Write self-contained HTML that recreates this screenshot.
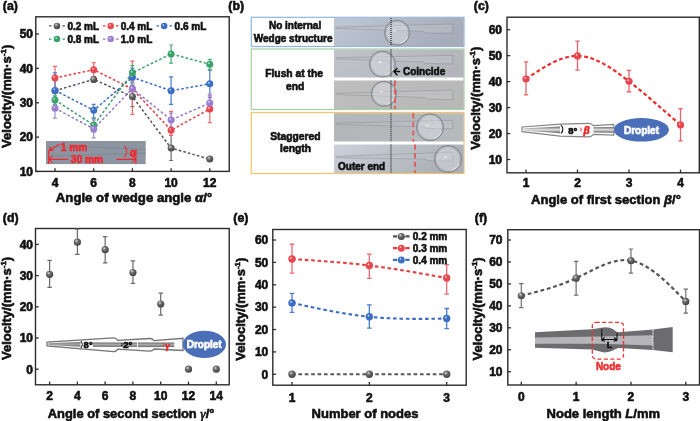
<!DOCTYPE html>
<html><head><meta charset="utf-8"><style>html,body{margin:0;padding:0;background:#fff;width:700px;height:421px;overflow:hidden}svg{display:block;will-change:transform;opacity:0.999}text{stroke-width:0.6px}</style></head>
<body><svg width="700" height="421" viewBox="0 0 700 421" font-family='"Liberation Sans", sans-serif'><defs><radialGradient id="g_gray" cx="0.38" cy="0.35" r="0.7"><stop offset="0" stop-color="#ffffff" stop-opacity="0.85"/><stop offset="0.25" stop-color="#5a5a5a" stop-opacity="1"/><stop offset="1" stop-color="#5a5a5a"/></radialGradient><radialGradient id="g_red" cx="0.38" cy="0.35" r="0.7"><stop offset="0" stop-color="#ffffff" stop-opacity="0.85"/><stop offset="0.25" stop-color="#e8474f" stop-opacity="1"/><stop offset="1" stop-color="#e8474f"/></radialGradient><radialGradient id="g_blue" cx="0.38" cy="0.35" r="0.7"><stop offset="0" stop-color="#ffffff" stop-opacity="0.85"/><stop offset="0.25" stop-color="#3b6fc4" stop-opacity="1"/><stop offset="1" stop-color="#3b6fc4"/></radialGradient><radialGradient id="g_green" cx="0.38" cy="0.35" r="0.7"><stop offset="0" stop-color="#ffffff" stop-opacity="0.85"/><stop offset="0.25" stop-color="#3aa36c" stop-opacity="1"/><stop offset="1" stop-color="#3aa36c"/></radialGradient><radialGradient id="g_purple" cx="0.38" cy="0.35" r="0.7"><stop offset="0" stop-color="#ffffff" stop-opacity="0.85"/><stop offset="0.25" stop-color="#9a7fd0" stop-opacity="1"/><stop offset="1" stop-color="#9a7fd0"/></radialGradient><radialGradient id="dropg" cx="0.5" cy="0.5" r="0.5"><stop offset="0" stop-color="#e2e6ea" stop-opacity="0.35"/><stop offset="0.8" stop-color="#dfe3e8" stop-opacity="0.45"/><stop offset="1" stop-color="#8c9198" stop-opacity="0.6"/></radialGradient><linearGradient id="tubeg" x1="0" y1="0" x2="0" y2="1"><stop offset="0" stop-color="#6a6a6a"/><stop offset="0.3" stop-color="#b5b5b5"/><stop offset="0.5" stop-color="#e8e8e8"/><stop offset="0.7" stop-color="#a5a5a5"/><stop offset="1" stop-color="#666666"/></linearGradient><linearGradient id="tubeg2" x1="0" y1="0" x2="0" y2="1"><stop offset="0" stop-color="#6e6e6e"/><stop offset="0.45" stop-color="#a8a8a8"/><stop offset="1" stop-color="#707070"/></linearGradient><radialGradient id="g_dgray" cx="0.38" cy="0.33" r="0.75"><stop offset="0" stop-color="#d8d8d8"/><stop offset="0.35" stop-color="#6a6a6a"/><stop offset="1" stop-color="#3c3c3c"/></radialGradient></defs><text x="2.80" y="9.90" font-size="12.3" text-anchor="start" fill="#111" stroke="#111" font-weight="bold" >(a)</text><text x="228.30" y="9.90" font-size="12.3" text-anchor="start" fill="#111" stroke="#111" font-weight="bold" >(b)</text><text x="473.80" y="9.90" font-size="12.3" text-anchor="start" fill="#111" stroke="#111" font-weight="bold" >(c)</text><text x="2.80" y="221.60" font-size="12.3" text-anchor="start" fill="#111" stroke="#111" font-weight="bold" >(d)</text><text x="233.30" y="221.60" font-size="12.3" text-anchor="start" fill="#111" stroke="#111" font-weight="bold" >(e)</text><text x="474.80" y="221.60" font-size="12.3" text-anchor="start" fill="#111" stroke="#111" font-weight="bold" >(f)</text><rect x="46" y="141" width="99.7" height="23.1" fill="#8d95a2"/><path d="M46 147 Q95 146 145.7 149.5" stroke="#7a818d" stroke-width="1" fill="none" opacity="0.7"/><path d="M46 156 Q95 155 145.7 153" stroke="#7a818d" stroke-width="1" fill="none" opacity="0.7"/><g stroke="#f0282d" stroke-width="1.2" fill="none"><path d="M59.6 144.1 L49 150.7 M49 150.7 l4.5 -0.5 M49 150.7 l1.8 -4"/><path d="M48.6 151V164 M48.6 159.4H68.3 M48.6 159.4 l4 -3.5 M48.6 159.4 l4 3.5"/><path d="M116.2 159.4H135.9 M135.9 151V164 M135.9 159.4 l-4 -3.5 M135.9 159.4 l-4 3.5"/><path d="M124.5 146 Q129 151.5 124.5 157"/></g><text x="60.80" y="150.60" font-size="10.2" text-anchor="start" fill="#f0282d" stroke="#f0282d" font-weight="bold" >1 mm</text><text x="70.80" y="163.20" font-size="10.2" text-anchor="start" fill="#f0282d" stroke="#f0282d" font-weight="bold" >30 mm</text><text x="129.8" y="156.2" font-size="10.5" fill="#f0282d" stroke="#f0282d" font-weight="bold" font-style="italic">α</text><path d="M55.00 90.72 L93.70 79.38 L132.40 96.56 L171.10 148.12 L209.80 159.12" stroke="#555555" stroke-width="1.5" fill="none" stroke-dasharray="2.6 2.1"/><path d="M55.00 78.00 L93.70 69.75 L132.40 89.00 L171.10 130.25 L209.80 108.94" stroke="#e53a3f" stroke-width="1.5" fill="none" stroke-dasharray="2.6 2.1"/><path d="M55.00 90.38 L93.70 110.31 L132.40 77.31 L171.10 90.72 L209.80 83.84" stroke="#3a6cc2" stroke-width="1.5" fill="none" stroke-dasharray="2.6 2.1"/><path d="M55.00 100.00 L93.70 125.09 L132.40 72.84 L171.10 53.94 L209.80 64.25" stroke="#3a9f6a" stroke-width="1.5" fill="none" stroke-dasharray="2.6 2.1"/><path d="M55.00 108.25 L93.70 128.88 L132.40 88.66 L171.10 119.94 L209.80 103.09" stroke="#9478cc" stroke-width="1.5" fill="none" stroke-dasharray="2.6 2.1"/><path d="M93.70 76.62V82.12M91.70 76.62H95.70M91.70 82.12H95.70" stroke="#6e6e6e" stroke-width="1.2" fill="none"/><path d="M132.40 82.12V106.53M130.40 82.12H134.40M130.40 106.53H134.40" stroke="#6e6e6e" stroke-width="1.2" fill="none"/><path d="M171.10 135.41V160.50M169.10 135.41H173.10M169.10 160.50H173.10" stroke="#6e6e6e" stroke-width="1.2" fill="none"/><path d="M209.80 157.06V161.19M207.80 157.06H211.80M207.80 161.19H211.80" stroke="#6e6e6e" stroke-width="1.2" fill="none"/><path d="M55.00 66.31V90.72M53.00 66.31H57.00M53.00 90.72H57.00" stroke="#ec6a70" stroke-width="1.2" fill="none"/><path d="M93.70 62.53V76.97M91.70 62.53H95.70M91.70 76.97H95.70" stroke="#ec6a70" stroke-width="1.2" fill="none"/><path d="M132.40 61.16V114.44M130.40 61.16H134.40M130.40 114.44H134.40" stroke="#ec6a70" stroke-width="1.2" fill="none"/><path d="M171.10 111.34V135.41M169.10 111.34H173.10M169.10 135.41H173.10" stroke="#ec6a70" stroke-width="1.2" fill="none"/><path d="M209.80 95.88V122.69M207.80 95.88H211.80M207.80 122.69H211.80" stroke="#ec6a70" stroke-width="1.2" fill="none"/><path d="M55.00 72.84V106.88M53.00 72.84H57.00M53.00 106.88H57.00" stroke="#4a7cd0" stroke-width="1.2" fill="none"/><path d="M93.70 104.47V118.22M91.70 104.47H95.70M91.70 118.22H95.70" stroke="#4a7cd0" stroke-width="1.2" fill="none"/><path d="M132.40 68.38V85.56M130.40 68.38H134.40M130.40 85.56H134.40" stroke="#4a7cd0" stroke-width="1.2" fill="none"/><path d="M171.10 76.97V104.47M169.10 76.97H173.10M169.10 104.47H173.10" stroke="#4a7cd0" stroke-width="1.2" fill="none"/><path d="M209.80 70.09V97.59M207.80 70.09H211.80M207.80 97.59H211.80" stroke="#4a7cd0" stroke-width="1.2" fill="none"/><path d="M55.00 95.88V104.47M53.00 95.88H57.00M53.00 104.47H57.00" stroke="#4aad7a" stroke-width="1.2" fill="none"/><path d="M93.70 118.22V131.97M91.70 118.22H95.70M91.70 131.97H95.70" stroke="#4aad7a" stroke-width="1.2" fill="none"/><path d="M132.40 65.63V83.84M130.40 65.63H134.40M130.40 83.84H134.40" stroke="#4aad7a" stroke-width="1.2" fill="none"/><path d="M171.10 45.00V63.22M169.10 45.00H173.10M169.10 63.22H173.10" stroke="#4aad7a" stroke-width="1.2" fill="none"/><path d="M209.80 59.44V69.41M207.80 59.44H211.80M207.80 69.41H211.80" stroke="#4aad7a" stroke-width="1.2" fill="none"/><path d="M55.00 97.59V118.22M53.00 97.59H57.00M53.00 118.22H57.00" stroke="#a58ad6" stroke-width="1.2" fill="none"/><path d="M93.70 119.94V137.81M91.70 119.94H95.70M91.70 137.81H95.70" stroke="#a58ad6" stroke-width="1.2" fill="none"/><path d="M132.40 80.41V97.59M130.40 80.41H134.40M130.40 97.59H134.40" stroke="#a58ad6" stroke-width="1.2" fill="none"/><path d="M171.10 113.06V126.81M169.10 113.06H173.10M169.10 126.81H173.10" stroke="#a58ad6" stroke-width="1.2" fill="none"/><path d="M209.80 94.16V111.34M207.80 94.16H211.80M207.80 111.34H211.80" stroke="#a58ad6" stroke-width="1.2" fill="none"/><circle cx="55.00" cy="90.72" r="3.5" fill="url(#g_dgray)"/><circle cx="93.70" cy="79.38" r="3.5" fill="url(#g_dgray)"/><circle cx="132.40" cy="96.56" r="3.5" fill="url(#g_dgray)"/><circle cx="171.10" cy="148.12" r="3.5" fill="url(#g_dgray)"/><circle cx="209.80" cy="159.12" r="3.5" fill="url(#g_dgray)"/><circle cx="55.00" cy="78.00" r="3.5" fill="url(#g_red)"/><circle cx="93.70" cy="69.75" r="3.5" fill="url(#g_red)"/><circle cx="132.40" cy="89.00" r="3.5" fill="url(#g_red)"/><circle cx="171.10" cy="130.25" r="3.5" fill="url(#g_red)"/><circle cx="209.80" cy="108.94" r="3.5" fill="url(#g_red)"/><circle cx="55.00" cy="90.38" r="3.5" fill="url(#g_blue)"/><circle cx="93.70" cy="110.31" r="3.5" fill="url(#g_blue)"/><circle cx="132.40" cy="77.31" r="3.5" fill="url(#g_blue)"/><circle cx="171.10" cy="90.72" r="3.5" fill="url(#g_blue)"/><circle cx="209.80" cy="83.84" r="3.5" fill="url(#g_blue)"/><circle cx="55.00" cy="100.00" r="3.5" fill="url(#g_green)"/><circle cx="93.70" cy="125.09" r="3.5" fill="url(#g_green)"/><circle cx="132.40" cy="72.84" r="3.5" fill="url(#g_green)"/><circle cx="171.10" cy="53.94" r="3.5" fill="url(#g_green)"/><circle cx="209.80" cy="64.25" r="3.5" fill="url(#g_green)"/><circle cx="55.00" cy="108.25" r="3.5" fill="url(#g_purple)"/><circle cx="93.70" cy="128.88" r="3.5" fill="url(#g_purple)"/><circle cx="132.40" cy="88.66" r="3.5" fill="url(#g_purple)"/><circle cx="171.10" cy="119.94" r="3.5" fill="url(#g_purple)"/><circle cx="209.80" cy="103.09" r="3.5" fill="url(#g_purple)"/><path d="M48.90 25.90h2.6M62.40 25.90H65.00" stroke="#555555" stroke-width="1.4"/><circle cx="56.95" cy="25.90" r="3.25" fill="url(#g_dgray)"/><text x="67.40" y="29.50" font-size="10" text-anchor="start" fill="#111" stroke="#111" font-weight="bold" >0.2 mL</text><path d="M102.90 25.90h2.6M115.90 25.90H118.50" stroke="#e53a3f" stroke-width="1.4"/><circle cx="110.70" cy="25.90" r="3.25" fill="url(#g_red)"/><text x="120.70" y="29.50" font-size="10" text-anchor="start" fill="#111" stroke="#111" font-weight="bold" >0.4 mL</text><path d="M156.40 25.90h2.6M169.40 25.90H172.00" stroke="#3a6cc2" stroke-width="1.4"/><circle cx="164.20" cy="25.90" r="3.25" fill="url(#g_blue)"/><text x="174.60" y="29.50" font-size="10" text-anchor="start" fill="#111" stroke="#111" font-weight="bold" >0.6 mL</text><path d="M48.90 39.10h2.6M62.40 39.10H65.00" stroke="#3a9f6a" stroke-width="1.4"/><circle cx="56.95" cy="39.10" r="3.25" fill="url(#g_green)"/><text x="67.40" y="42.70" font-size="10" text-anchor="start" fill="#111" stroke="#111" font-weight="bold" >0.8 mL</text><path d="M102.90 39.10h2.6M115.90 39.10H118.50" stroke="#9478cc" stroke-width="1.4"/><circle cx="110.70" cy="39.10" r="3.25" fill="url(#g_purple)"/><text x="120.70" y="42.70" font-size="10" text-anchor="start" fill="#111" stroke="#111" font-weight="bold" >1.0 mL</text><rect x="35.80" y="16.80" width="193.40" height="154.60" fill="none" stroke="#2b2b2b" stroke-width="1.4"/><path d="M35.80 171.50H39.00" stroke="#2b2b2b" stroke-width="1.3"/><text x="33.00" y="175.80" font-size="12" text-anchor="end" fill="#111" stroke="#111" font-weight="bold" >10</text><path d="M35.80 137.12H39.00" stroke="#2b2b2b" stroke-width="1.3"/><text x="33.00" y="141.43" font-size="12" text-anchor="end" fill="#111" stroke="#111" font-weight="bold" >20</text><path d="M35.80 102.75H39.00" stroke="#2b2b2b" stroke-width="1.3"/><text x="33.00" y="107.05" font-size="12" text-anchor="end" fill="#111" stroke="#111" font-weight="bold" >30</text><path d="M35.80 68.38H39.00" stroke="#2b2b2b" stroke-width="1.3"/><text x="33.00" y="72.67" font-size="12" text-anchor="end" fill="#111" stroke="#111" font-weight="bold" >40</text><path d="M35.80 34.00H39.00" stroke="#2b2b2b" stroke-width="1.3"/><text x="33.00" y="38.30" font-size="12" text-anchor="end" fill="#111" stroke="#111" font-weight="bold" >50</text><path d="M55.00 171.40V168.20" stroke="#2b2b2b" stroke-width="1.3"/><text x="55.00" y="186.50" font-size="12" text-anchor="middle" fill="#111" stroke="#111" font-weight="bold" >4</text><path d="M93.70 171.40V168.20" stroke="#2b2b2b" stroke-width="1.3"/><text x="93.70" y="186.50" font-size="12" text-anchor="middle" fill="#111" stroke="#111" font-weight="bold" >6</text><path d="M132.40 171.40V168.20" stroke="#2b2b2b" stroke-width="1.3"/><text x="132.40" y="186.50" font-size="12" text-anchor="middle" fill="#111" stroke="#111" font-weight="bold" >8</text><path d="M171.10 171.40V168.20" stroke="#2b2b2b" stroke-width="1.3"/><text x="171.10" y="186.50" font-size="12" text-anchor="middle" fill="#111" stroke="#111" font-weight="bold" >10</text><path d="M209.80 171.40V168.20" stroke="#2b2b2b" stroke-width="1.3"/><text x="209.80" y="186.50" font-size="12" text-anchor="middle" fill="#111" stroke="#111" font-weight="bold" >12</text><text transform="translate(10.80 96.30) rotate(-90)" x="0" y="0" font-size="13" text-anchor="middle" fill="#111" font-weight="bold" stroke="#111">Velocity/(mm·s<tspan font-size="8" dy="-5">-1</tspan><tspan dy="5">)</tspan></text><text x="134" y="202.4" font-size="13.2" text-anchor="middle" fill="#111" font-weight="bold" stroke="#111">Angle of wedge angle <tspan font-style="italic">α</tspan>/°</text><rect x="507.00" y="17.20" width="192.30" height="155.60" fill="none" stroke="#2b2b2b" stroke-width="1.4"/><path d="M507.00 159.50H510.20" stroke="#2b2b2b" stroke-width="1.3"/><text x="502.00" y="163.80" font-size="12" text-anchor="end" fill="#111" stroke="#111" font-weight="bold" >10</text><path d="M507.00 133.54H510.20" stroke="#2b2b2b" stroke-width="1.3"/><text x="502.00" y="137.84" font-size="12" text-anchor="end" fill="#111" stroke="#111" font-weight="bold" >20</text><path d="M507.00 107.58H510.20" stroke="#2b2b2b" stroke-width="1.3"/><text x="502.00" y="111.88" font-size="12" text-anchor="end" fill="#111" stroke="#111" font-weight="bold" >30</text><path d="M507.00 81.62H510.20" stroke="#2b2b2b" stroke-width="1.3"/><text x="502.00" y="85.92" font-size="12" text-anchor="end" fill="#111" stroke="#111" font-weight="bold" >40</text><path d="M507.00 55.66H510.20" stroke="#2b2b2b" stroke-width="1.3"/><text x="502.00" y="59.96" font-size="12" text-anchor="end" fill="#111" stroke="#111" font-weight="bold" >50</text><path d="M507.00 29.70H510.20" stroke="#2b2b2b" stroke-width="1.3"/><text x="502.00" y="34.00" font-size="12" text-anchor="end" fill="#111" stroke="#111" font-weight="bold" >60</text><path d="M526.00 172.80V169.60" stroke="#2b2b2b" stroke-width="1.3"/><text x="526.00" y="186.50" font-size="12" text-anchor="middle" fill="#111" stroke="#111" font-weight="bold" >1</text><path d="M577.50 172.80V169.60" stroke="#2b2b2b" stroke-width="1.3"/><text x="577.50" y="186.50" font-size="12" text-anchor="middle" fill="#111" stroke="#111" font-weight="bold" >2</text><path d="M629.00 172.80V169.60" stroke="#2b2b2b" stroke-width="1.3"/><text x="629.00" y="186.50" font-size="12" text-anchor="middle" fill="#111" stroke="#111" font-weight="bold" >3</text><path d="M680.50 172.80V169.60" stroke="#2b2b2b" stroke-width="1.3"/><text x="680.50" y="186.50" font-size="12" text-anchor="middle" fill="#111" stroke="#111" font-weight="bold" >4</text><text transform="translate(480.00 98.20) rotate(-90)" x="0" y="0" font-size="13" text-anchor="middle" fill="#111" font-weight="bold" stroke="#111">Velocity/(mm·s<tspan font-size="8" dy="-5">-1</tspan><tspan dy="5">)</tspan></text><text x="606" y="203.9" font-size="13" text-anchor="middle" fill="#111" font-weight="bold" stroke="#111">Angle of first section <tspan font-style="italic">β</tspan>/°</text><path d="M526.00 79.02 L528.15 77.57 L530.29 76.13 L532.44 74.69 L534.58 73.27 L536.73 71.87 L538.88 70.50 L541.02 69.15 L543.17 67.85 L545.31 66.58 L547.46 65.36 L549.60 64.19 L551.75 63.07 L553.90 62.02 L556.04 61.03 L558.19 60.11 L560.33 59.28 L562.48 58.52 L564.62 57.85 L566.77 57.27 L568.92 56.78 L571.06 56.40 L573.21 56.13 L575.35 55.96 L577.50 55.92 L579.65 56.00 L581.79 56.19 L583.94 56.50 L586.08 56.91 L588.23 57.43 L590.38 58.05 L592.52 58.77 L594.67 59.58 L596.81 60.47 L598.96 61.45 L601.10 62.51 L603.25 63.64 L605.40 64.84 L607.54 66.10 L609.69 67.43 L611.83 68.81 L613.98 70.24 L616.12 71.72 L618.27 73.25 L620.42 74.81 L622.56 76.41 L624.71 78.03 L626.85 79.69 L629.00 81.36 L631.15 83.05 L633.29 84.76 L635.44 86.48 L637.58 88.22 L639.73 89.97 L641.88 91.74 L644.02 93.51 L646.17 95.30 L648.31 97.10 L650.46 98.91 L652.60 100.73 L654.75 102.56 L656.90 104.40 L659.04 106.25 L661.19 108.10 L663.33 109.96 L665.48 111.82 L667.62 113.69 L669.77 115.57 L671.92 117.44 L674.06 119.32 L676.21 121.21 L678.35 123.09 L680.50 124.97" stroke="#ee2a2a" stroke-width="2.2" fill="none" stroke-dasharray="3.8 2.6"/><path d="M526.00 61.89V94.86M523.80 61.89H528.20M523.80 94.86H528.20" stroke="#e86468" stroke-width="1.3" fill="none"/><path d="M577.50 41.12V70.20M575.30 41.12H579.70M575.30 70.20H579.70" stroke="#e86468" stroke-width="1.3" fill="none"/><path d="M629.00 70.46V91.74M626.80 70.46H631.20M626.80 91.74H631.20" stroke="#e86468" stroke-width="1.3" fill="none"/><path d="M680.50 108.62V140.81M678.30 108.62H682.70M678.30 140.81H682.70" stroke="#e86468" stroke-width="1.3" fill="none"/><circle cx="526.00" cy="79.02" r="3.6" fill="url(#g_red)"/><circle cx="577.50" cy="55.92" r="3.6" fill="url(#g_red)"/><circle cx="629.00" cy="81.36" r="3.6" fill="url(#g_red)"/><circle cx="680.50" cy="124.97" r="3.6" fill="url(#g_red)"/><rect x="35.50" y="228.50" width="193.70" height="156.30" fill="none" stroke="#2b2b2b" stroke-width="1.4"/><path d="M35.50 369.20H38.70" stroke="#2b2b2b" stroke-width="1.3"/><text x="33.00" y="373.50" font-size="12" text-anchor="end" fill="#111" stroke="#111" font-weight="bold" >0</text><path d="M35.50 338.00H38.70" stroke="#2b2b2b" stroke-width="1.3"/><text x="33.00" y="342.30" font-size="12" text-anchor="end" fill="#111" stroke="#111" font-weight="bold" >10</text><path d="M35.50 306.80H38.70" stroke="#2b2b2b" stroke-width="1.3"/><text x="33.00" y="311.10" font-size="12" text-anchor="end" fill="#111" stroke="#111" font-weight="bold" >20</text><path d="M35.50 275.60H38.70" stroke="#2b2b2b" stroke-width="1.3"/><text x="33.00" y="279.90" font-size="12" text-anchor="end" fill="#111" stroke="#111" font-weight="bold" >30</text><path d="M35.50 244.40H38.70" stroke="#2b2b2b" stroke-width="1.3"/><text x="33.00" y="248.70" font-size="12" text-anchor="end" fill="#111" stroke="#111" font-weight="bold" >40</text><path d="M49.60 384.80V381.60" stroke="#2b2b2b" stroke-width="1.3"/><text x="49.60" y="400.20" font-size="12" text-anchor="middle" fill="#111" stroke="#111" font-weight="bold" >2</text><path d="M77.38 384.80V381.60" stroke="#2b2b2b" stroke-width="1.3"/><text x="77.38" y="400.20" font-size="12" text-anchor="middle" fill="#111" stroke="#111" font-weight="bold" >4</text><path d="M105.16 384.80V381.60" stroke="#2b2b2b" stroke-width="1.3"/><text x="105.16" y="400.20" font-size="12" text-anchor="middle" fill="#111" stroke="#111" font-weight="bold" >6</text><path d="M132.94 384.80V381.60" stroke="#2b2b2b" stroke-width="1.3"/><text x="132.94" y="400.20" font-size="12" text-anchor="middle" fill="#111" stroke="#111" font-weight="bold" >8</text><path d="M160.72 384.80V381.60" stroke="#2b2b2b" stroke-width="1.3"/><text x="160.72" y="400.20" font-size="12" text-anchor="middle" fill="#111" stroke="#111" font-weight="bold" >10</text><path d="M188.50 384.80V381.60" stroke="#2b2b2b" stroke-width="1.3"/><text x="188.50" y="400.20" font-size="12" text-anchor="middle" fill="#111" stroke="#111" font-weight="bold" >12</text><path d="M216.28 384.80V381.60" stroke="#2b2b2b" stroke-width="1.3"/><text x="216.28" y="400.20" font-size="12" text-anchor="middle" fill="#111" stroke="#111" font-weight="bold" >14</text><text transform="translate(10.70 308.40) rotate(-90)" x="0" y="0" font-size="13" text-anchor="middle" fill="#111" font-weight="bold" stroke="#111">Velocity/(mm·s<tspan font-size="8" dy="-5">-1</tspan><tspan dy="5">)</tspan></text><text x="131.1" y="418.1" font-size="12.9" text-anchor="middle" fill="#111" font-weight="bold" stroke="#111">Angle of second section <tspan font-style="italic" font-weight="normal" font-family="Liberation Serif" font-size="13.5">γ</tspan>/°</text><path d="M49.60 260.31V287.46M47.40 260.31H51.80M47.40 287.46H51.80" stroke="#6a6a6a" stroke-width="1.2" fill="none"/><path d="M77.38 229.20V254.38M75.18 229.20H79.58M75.18 254.38H79.58" stroke="#6a6a6a" stroke-width="1.2" fill="none"/><path d="M105.16 236.60V262.81M102.96 236.60H107.36M102.96 262.81H107.36" stroke="#6a6a6a" stroke-width="1.2" fill="none"/><path d="M132.94 260.94V283.40M130.74 260.94H135.14M130.74 283.40H135.14" stroke="#6a6a6a" stroke-width="1.2" fill="none"/><path d="M160.72 293.07V315.22M158.52 293.07H162.92M158.52 315.22H162.92" stroke="#6a6a6a" stroke-width="1.2" fill="none"/><circle cx="49.60" cy="274.35" r="3.6" fill="url(#g_dgray)"/><circle cx="77.38" cy="242.22" r="3.6" fill="url(#g_dgray)"/><circle cx="105.16" cy="249.70" r="3.6" fill="url(#g_dgray)"/><circle cx="132.94" cy="272.48" r="3.6" fill="url(#g_dgray)"/><circle cx="160.72" cy="303.99" r="3.6" fill="url(#g_dgray)"/><circle cx="188.50" cy="369.20" r="3.6" fill="url(#g_dgray)"/><circle cx="216.28" cy="369.20" r="3.6" fill="url(#g_dgray)"/><g><path d="M47 342.1 L113.5 337.8 Q116 337.6 117.8 340.4 L149.5 338.5 Q152 338.3 154.2 340.6 L183 338.3 L183 350.5 L154.2 349 Q152 351.3 149.5 351.1 L117.8 349.2 Q116 351.9 113.5 351.6 L47 345.9 Z" fill="#fbfbfb" stroke="#737373" stroke-width="1.3"/><path d="M48.5 343.2 L80.5 342.1 L80.5 346.7 L48.5 344.9 Z" fill="url(#tubeg2)"/><rect x="93" y="342.5" width="44" height="4.4" fill="url(#tubeg2)"/><rect x="138" y="342.5" width="36.3" height="4.6" fill="url(#tubeg2)"/><path d="M81 341 Q84 344.5 81 348" stroke="#111" stroke-width="1" fill="none"/><path d="M121.2 343.1 Q123.2 344.6 121.2 346" stroke="#111" stroke-width="0.9" fill="none"/><path d="M162.8 343 Q164.6 344.6 162.8 346.2" stroke="#ee2222" stroke-width="0.9" fill="none"/></g><text x="83.60" y="348.00" font-size="9.5" text-anchor="start" fill="#111" stroke="#111" font-weight="bold" >8°</text><text x="123.30" y="348.00" font-size="9.5" text-anchor="start" fill="#111" stroke="#111" font-weight="bold" >2°</text><text x="165.3" y="348.8" font-size="11" fill="#ee2222" stroke="#ee2222" font-weight="normal" font-style="italic" font-family="Liberation Serif">γ</text><ellipse cx="204.4" cy="344.4" rx="21.6" ry="13.6" fill="#4a6fb8"/><text x="204.20" y="348.30" font-size="10" text-anchor="middle" fill="#ffffff" stroke="#ffffff" font-weight="bold" >Droplet</text><rect x="272.80" y="229.50" width="193.40" height="155.70" fill="none" stroke="#2b2b2b" stroke-width="1.4"/><path d="M272.80 374.30H276.00" stroke="#2b2b2b" stroke-width="1.3"/><text x="268.30" y="378.60" font-size="12" text-anchor="end" fill="#111" stroke="#111" font-weight="bold" >0</text><path d="M272.80 351.92H276.00" stroke="#2b2b2b" stroke-width="1.3"/><text x="268.30" y="356.22" font-size="12" text-anchor="end" fill="#111" stroke="#111" font-weight="bold" >10</text><path d="M272.80 329.54H276.00" stroke="#2b2b2b" stroke-width="1.3"/><text x="268.30" y="333.84" font-size="12" text-anchor="end" fill="#111" stroke="#111" font-weight="bold" >20</text><path d="M272.80 307.16H276.00" stroke="#2b2b2b" stroke-width="1.3"/><text x="268.30" y="311.46" font-size="12" text-anchor="end" fill="#111" stroke="#111" font-weight="bold" >30</text><path d="M272.80 284.78H276.00" stroke="#2b2b2b" stroke-width="1.3"/><text x="268.30" y="289.08" font-size="12" text-anchor="end" fill="#111" stroke="#111" font-weight="bold" >40</text><path d="M272.80 262.40H276.00" stroke="#2b2b2b" stroke-width="1.3"/><text x="268.30" y="266.70" font-size="12" text-anchor="end" fill="#111" stroke="#111" font-weight="bold" >50</text><path d="M272.80 240.02H276.00" stroke="#2b2b2b" stroke-width="1.3"/><text x="268.30" y="244.32" font-size="12" text-anchor="end" fill="#111" stroke="#111" font-weight="bold" >60</text><path d="M292.00 385.20V382.00" stroke="#2b2b2b" stroke-width="1.3"/><text x="292.00" y="401.60" font-size="12" text-anchor="middle" fill="#111" stroke="#111" font-weight="bold" >1</text><path d="M369.35 385.20V382.00" stroke="#2b2b2b" stroke-width="1.3"/><text x="369.35" y="401.60" font-size="12" text-anchor="middle" fill="#111" stroke="#111" font-weight="bold" >2</text><path d="M446.70 385.20V382.00" stroke="#2b2b2b" stroke-width="1.3"/><text x="446.70" y="401.60" font-size="12" text-anchor="middle" fill="#111" stroke="#111" font-weight="bold" >3</text><text transform="translate(244.50 309.20) rotate(-90)" x="0" y="0" font-size="13" text-anchor="middle" fill="#111" font-weight="bold" stroke="#111">Velocity/(mm·s<tspan font-size="8" dy="-5">-1</tspan><tspan dy="5">)</tspan></text><text x="365.00" y="418.10" font-size="13" text-anchor="middle" fill="#111" stroke="#111" font-weight="bold" >Number of nodes</text><path d="M292.00 374.30 L295.22 374.30 L298.45 374.30 L301.67 374.30 L304.89 374.30 L308.11 374.30 L311.34 374.30 L314.56 374.30 L317.78 374.30 L321.01 374.30 L324.23 374.30 L327.45 374.30 L330.68 374.30 L333.90 374.30 L337.12 374.30 L340.34 374.30 L343.57 374.30 L346.79 374.30 L350.01 374.30 L353.24 374.30 L356.46 374.30 L359.68 374.30 L362.90 374.30 L366.13 374.30 L369.35 374.30 L372.57 374.30 L375.80 374.30 L379.02 374.30 L382.24 374.30 L385.46 374.30 L388.69 374.30 L391.91 374.30 L395.13 374.30 L398.36 374.30 L401.58 374.30 L404.80 374.30 L408.02 374.30 L411.25 374.30 L414.47 374.30 L417.69 374.30 L420.92 374.30 L424.14 374.30 L427.36 374.30 L430.59 374.30 L433.81 374.30 L437.03 374.30 L440.25 374.30 L443.48 374.30 L446.70 374.30" stroke="#555555" stroke-width="2.1" fill="none" stroke-dasharray="3.6 2.8"/><path d="M292.00 259.04 L295.22 259.25 L298.45 259.46 L301.67 259.67 L304.89 259.88 L308.11 260.09 L311.34 260.31 L314.56 260.53 L317.78 260.76 L321.01 260.99 L324.23 261.23 L327.45 261.47 L330.68 261.72 L333.90 261.98 L337.12 262.25 L340.34 262.52 L343.57 262.81 L346.79 263.11 L350.01 263.41 L353.24 263.73 L356.46 264.07 L359.68 264.41 L362.90 264.77 L366.13 265.14 L369.35 265.53 L372.57 265.94 L375.80 266.36 L379.02 266.79 L382.24 267.24 L385.46 267.70 L388.69 268.17 L391.91 268.66 L395.13 269.15 L398.36 269.66 L401.58 270.17 L404.80 270.70 L408.02 271.23 L411.25 271.77 L414.47 272.32 L417.69 272.88 L420.92 273.44 L424.14 274.01 L427.36 274.58 L430.59 275.15 L433.81 275.73 L437.03 276.31 L440.25 276.90 L443.48 277.48 L446.70 278.07" stroke="#e53a3f" stroke-width="2.1" fill="none" stroke-dasharray="3.6 2.8"/><path d="M292.00 302.91 L295.22 303.61 L298.45 304.31 L301.67 305.01 L304.89 305.71 L308.11 306.40 L311.34 307.08 L314.56 307.76 L317.78 308.43 L321.01 309.08 L324.23 309.73 L327.45 310.36 L330.68 310.98 L333.90 311.58 L337.12 312.16 L340.34 312.73 L343.57 313.28 L346.79 313.80 L350.01 314.31 L353.24 314.79 L356.46 315.24 L359.68 315.67 L362.90 316.07 L366.13 316.44 L369.35 316.78 L372.57 317.09 L375.80 317.37 L379.02 317.63 L382.24 317.85 L385.46 318.05 L388.69 318.22 L391.91 318.37 L395.13 318.50 L398.36 318.61 L401.58 318.69 L404.80 318.76 L408.02 318.81 L411.25 318.85 L414.47 318.87 L417.69 318.88 L420.92 318.87 L424.14 318.86 L427.36 318.83 L430.59 318.80 L433.81 318.76 L437.03 318.72 L440.25 318.67 L443.48 318.62 L446.70 318.57" stroke="#3a6cc2" stroke-width="2.1" fill="none" stroke-dasharray="3.6 2.8"/><path d="M292.00 244.27V273.14M289.70 244.27H294.30M289.70 273.14H294.30" stroke="#ec6a70" stroke-width="1.3" fill="none"/><path d="M369.35 254.12V278.29M367.05 254.12H371.65M367.05 278.29H371.65" stroke="#ec6a70" stroke-width="1.3" fill="none"/><path d="M446.70 264.64V294.18M444.40 264.64H449.00M444.40 294.18H449.00" stroke="#ec6a70" stroke-width="1.3" fill="none"/><path d="M292.00 293.28V312.31M289.70 293.28H294.30M289.70 312.31H294.30" stroke="#4a7cd0" stroke-width="1.3" fill="none"/><path d="M369.35 304.92V328.20M367.05 304.92H371.65M367.05 328.20H371.65" stroke="#4a7cd0" stroke-width="1.3" fill="none"/><path d="M446.70 308.50V328.64M444.40 308.50H449.00M444.40 328.64H449.00" stroke="#4a7cd0" stroke-width="1.3" fill="none"/><circle cx="292.00" cy="374.30" r="3.7" fill="url(#g_dgray)"/><circle cx="369.35" cy="374.30" r="3.7" fill="url(#g_dgray)"/><circle cx="446.70" cy="374.30" r="3.7" fill="url(#g_dgray)"/><circle cx="292.00" cy="259.04" r="3.7" fill="url(#g_red)"/><circle cx="369.35" cy="265.53" r="3.7" fill="url(#g_red)"/><circle cx="446.70" cy="278.07" r="3.7" fill="url(#g_red)"/><circle cx="292.00" cy="302.91" r="3.7" fill="url(#g_blue)"/><circle cx="369.35" cy="316.78" r="3.7" fill="url(#g_blue)"/><circle cx="446.70" cy="318.57" r="3.7" fill="url(#g_blue)"/><path d="M393 236.40H397.3M405.3 236.40H409.6" stroke="#555555" stroke-width="2.1"/><circle cx="401.30" cy="236.40" r="3.5" fill="url(#g_dgray)"/><text x="412.80" y="240.00" font-size="10" text-anchor="start" fill="#111" stroke="#111" font-weight="bold" >0.2 mm</text><path d="M393 248.15H397.3M405.3 248.15H409.6" stroke="#e53a3f" stroke-width="2.1"/><circle cx="401.30" cy="248.15" r="3.5" fill="url(#g_red)"/><text x="412.80" y="251.75" font-size="10" text-anchor="start" fill="#111" stroke="#111" font-weight="bold" >0.3 mm</text><path d="M393 259.90H397.3M405.3 259.90H409.6" stroke="#3a6cc2" stroke-width="2.1"/><circle cx="401.30" cy="259.90" r="3.5" fill="url(#g_blue)"/><text x="412.80" y="263.50" font-size="10" text-anchor="start" fill="#111" stroke="#111" font-weight="bold" >0.4 mm</text><rect x="507.80" y="229.70" width="191.70" height="155.30" fill="none" stroke="#2b2b2b" stroke-width="1.4"/><path d="M507.80 371.70H511.00" stroke="#2b2b2b" stroke-width="1.3"/><text x="502.50" y="376.00" font-size="12" text-anchor="end" fill="#111" stroke="#111" font-weight="bold" >10</text><path d="M507.80 349.75H511.00" stroke="#2b2b2b" stroke-width="1.3"/><text x="502.50" y="354.05" font-size="12" text-anchor="end" fill="#111" stroke="#111" font-weight="bold" >20</text><path d="M507.80 327.80H511.00" stroke="#2b2b2b" stroke-width="1.3"/><text x="502.50" y="332.10" font-size="12" text-anchor="end" fill="#111" stroke="#111" font-weight="bold" >30</text><path d="M507.80 305.85H511.00" stroke="#2b2b2b" stroke-width="1.3"/><text x="502.50" y="310.15" font-size="12" text-anchor="end" fill="#111" stroke="#111" font-weight="bold" >40</text><path d="M507.80 283.90H511.00" stroke="#2b2b2b" stroke-width="1.3"/><text x="502.50" y="288.20" font-size="12" text-anchor="end" fill="#111" stroke="#111" font-weight="bold" >50</text><path d="M507.80 261.95H511.00" stroke="#2b2b2b" stroke-width="1.3"/><text x="502.50" y="266.25" font-size="12" text-anchor="end" fill="#111" stroke="#111" font-weight="bold" >60</text><path d="M507.80 240.00H511.00" stroke="#2b2b2b" stroke-width="1.3"/><text x="502.50" y="244.30" font-size="12" text-anchor="end" fill="#111" stroke="#111" font-weight="bold" >70</text><path d="M521.30 385.00V381.80" stroke="#2b2b2b" stroke-width="1.3"/><text x="521.30" y="401.00" font-size="12" text-anchor="middle" fill="#111" stroke="#111" font-weight="bold" >0</text><path d="M576.13 385.00V381.80" stroke="#2b2b2b" stroke-width="1.3"/><text x="576.13" y="401.00" font-size="12" text-anchor="middle" fill="#111" stroke="#111" font-weight="bold" >1</text><path d="M630.96 385.00V381.80" stroke="#2b2b2b" stroke-width="1.3"/><text x="630.96" y="401.00" font-size="12" text-anchor="middle" fill="#111" stroke="#111" font-weight="bold" >2</text><path d="M685.79 385.00V381.80" stroke="#2b2b2b" stroke-width="1.3"/><text x="685.79" y="401.00" font-size="12" text-anchor="middle" fill="#111" stroke="#111" font-weight="bold" >3</text><text transform="translate(481.70 308.90) rotate(-90)" x="0" y="0" font-size="13" text-anchor="middle" fill="#111" font-weight="bold" stroke="#111">Velocity/(mm·s<tspan font-size="8" dy="-5">-1</tspan><tspan dy="5">)</tspan></text><text x="603.3" y="418.1" font-size="13" text-anchor="middle" fill="#111" font-weight="bold" stroke="#111">Node length <tspan font-style="italic">L</tspan>/mm</text><path d="M521.30 295.75 L523.58 295.18 L525.87 294.61 L528.15 294.04 L530.44 293.46 L532.72 292.87 L535.01 292.28 L537.29 291.67 L539.58 291.05 L541.86 290.42 L544.15 289.78 L546.43 289.11 L548.71 288.43 L551.00 287.73 L553.28 287.01 L555.57 286.26 L557.85 285.49 L560.14 284.69 L562.42 283.86 L564.71 283.00 L566.99 282.11 L569.28 281.19 L571.56 280.23 L573.85 279.23 L576.13 278.19 L578.41 277.12 L580.70 276.01 L582.98 274.88 L585.27 273.73 L587.55 272.58 L589.84 271.43 L592.12 270.29 L594.41 269.17 L596.69 268.07 L598.98 267.01 L601.26 266.00 L603.54 265.03 L605.83 264.13 L608.11 263.30 L610.40 262.54 L612.68 261.87 L614.97 261.30 L617.25 260.83 L619.54 260.47 L621.82 260.23 L624.11 260.11 L626.39 260.14 L628.68 260.31 L630.96 260.63 L633.24 261.12 L635.53 261.76 L637.81 262.54 L640.10 263.47 L642.38 264.54 L644.67 265.73 L646.95 267.05 L649.24 268.48 L651.52 270.01 L653.81 271.65 L656.09 273.39 L658.38 275.21 L660.66 277.11 L662.94 279.09 L665.23 281.13 L667.51 283.24 L669.80 285.40 L672.08 287.60 L674.37 289.85 L676.65 292.13 L678.94 294.44 L681.22 296.77 L683.51 299.11 L685.79 301.46" stroke="#555555" stroke-width="2.2" fill="none" stroke-dasharray="3.8 2.8"/><path d="M521.30 283.68V307.61M519.10 283.68H523.50M519.10 307.61H523.50" stroke="#707070" stroke-width="1.2" fill="none"/><path d="M576.13 261.29V295.09M573.93 261.29H578.33M573.93 295.09H578.33" stroke="#707070" stroke-width="1.2" fill="none"/><path d="M630.96 249.00V273.14M628.76 249.00H633.16M628.76 273.14H633.16" stroke="#707070" stroke-width="1.2" fill="none"/><path d="M685.79 289.17V313.09M683.59 289.17H687.99M683.59 313.09H687.99" stroke="#707070" stroke-width="1.2" fill="none"/><circle cx="521.30" cy="295.75" r="3.6" fill="url(#g_dgray)"/><circle cx="576.13" cy="278.19" r="3.6" fill="url(#g_dgray)"/><circle cx="630.96" cy="260.63" r="3.6" fill="url(#g_dgray)"/><circle cx="685.79" cy="301.46" r="3.6" fill="url(#g_dgray)"/><path d="M535 332.2 L592 329.2 L603 327.4 Q610 326.8 613.5 329.6 Q616 332 618.5 332.3 L653 329.6 L672.7 327.1 L672.7 352.3 L653 350 L618.5 347.9 Q615.5 348.6 613 350.6 Q608.5 352.8 603 352.3 L592 349.4 L535 347.7 Z" fill="#6c6c6e"/><path d="M535 337.4 L600 336.6 L653 335.3 L653 345.5 L600 343.8 L535 343.8 Z" fill="#b6b6ba"/><path d="M653 329.6V350" stroke="#ffffff" stroke-width="1" stroke-dasharray="1.8 1.2"/><rect x="592.3" y="322.3" width="31.2" height="36.8" rx="3.5" fill="none" stroke="#ee3333" stroke-width="1.3" stroke-dasharray="4 2.4"/><path d="M601.7 329V339.5Q601.7 341 603 341 M617 333V339.5Q617 341 615.7 341 M602.2 339.4H616.5 M602.2 339.4l2.6 -2.1M602.2 339.4l2.6 2.1M616.5 339.4l-2.6 -2.1M616.5 339.4l-2.6 2.1" stroke="#111" stroke-width="1.05" fill="none"/><text x="609.40" y="348.40" font-size="9" text-anchor="middle" fill="#111" stroke="#111" font-weight="bold" >L</text><text x="608.40" y="369.90" font-size="10" text-anchor="middle" fill="#ee3333" stroke="#ee3333" font-weight="bold" >Node</text><g><path d="M522 127 L560 124.2 L588.5 123.3 Q591.5 123.2 593.5 125.6 L613.8 124.4 L613.8 135.2 L593.5 134.4 Q591.5 136.9 588.5 136.8 L560 136.1 L522 131.6 Z" fill="#fbfbfb" stroke="#858585" stroke-width="1.2"/><path d="M523.5 128.4 L560 126.6 L560 133.2 L523.5 130.4 Z" fill="url(#tubeg)"/><path d="M593.5 127.3 L614 127 L614 132.8 L593.5 132.5 Z" fill="url(#tubeg)"/><path d="M561 125 Q564.8 129.2 561 133.4" stroke="#111" stroke-width="1.1" fill="none"/><path d="M580.3 127.6 Q582.8 129.4 580.3 131.2" stroke="#ee2222" stroke-width="1" fill="none"/></g><text x="568.30" y="133.60" font-size="9.5" text-anchor="start" fill="#111" stroke="#111" font-weight="bold" >8°</text><text x="583.5" y="134" font-size="10" fill="#ee2222" stroke="#ee2222" font-weight="bold" font-style="italic">β</text><ellipse cx="641.4" cy="129.8" rx="27.6" ry="11.8" fill="#4a6fb8"/><text x="641.50" y="133.70" font-size="10" text-anchor="middle" fill="#ffffff" stroke="#ffffff" font-weight="bold" >Droplet</text><rect x="251.3" y="17.3" width="212.7" height="29.2" fill="#fff" stroke="#8fb6e2" stroke-width="1.2"/><rect x="251.3" y="49" width="212.7" height="60.5" fill="#fff" stroke="#a3d19f" stroke-width="1.2"/><rect x="251.3" y="112.5" width="212.7" height="61" fill="#fff" stroke="#f4c46a" stroke-width="1.2"/><linearGradient id="ph17" x1="0" y1="0" x2="1" y2="0.3"><stop offset="0" stop-color="#c0c8d6"/><stop offset="1" stop-color="#a6acb8"/></linearGradient><rect x="334" y="17.6" width="129.70" height="28.60" fill="url(#ph17)"/><path d="M336 27.2 L452.8 24 L452.8 33.3 L426 33.0 L423 31.299999999999997 L336 28.400000000000002 Z" fill="#ffffff" fill-opacity="0.12" stroke="#8a8f97" stroke-width="0.65" stroke-opacity="0.85"/><path d="M339 27.8 L452 27.849999999999998" stroke="#9aa0a8" stroke-width="0.5" opacity="0.6"/><circle cx="397.1" cy="32.8" r="12.5" fill="url(#dropg)" stroke="#6e737a" stroke-width="0.9" stroke-opacity="0.75"/><path d="M399.60 43.42 A11.0 11.0 0 0 0 407.73 36.55" stroke="#ffffff" stroke-width="1.1" fill="none" opacity="0.55"/><ellipse cx="394.6" cy="30.799999999999997" rx="2.2" ry="0.8" fill="#ffffff" opacity="0.6"/><linearGradient id="ph49" x1="0" y1="0" x2="1" y2="0.3"><stop offset="0" stop-color="#c0c4cb"/><stop offset="1" stop-color="#b3b5ba"/></linearGradient><rect x="334" y="49.5" width="129.70" height="28.00" fill="url(#ph49)"/><path d="M336 57.699999999999996 L452.8 55.5 L452.8 63.9 L426 63.6 L423 61.9 L336 58.9 Z" fill="#ffffff" fill-opacity="0.12" stroke="#8a8f97" stroke-width="0.65" stroke-opacity="0.85"/><path d="M339 58.3 L452 58.900000000000006" stroke="#9aa0a8" stroke-width="0.5" opacity="0.6"/><circle cx="382.4" cy="64.1" r="13" fill="url(#dropg)" stroke="#6e737a" stroke-width="0.9" stroke-opacity="0.75"/><path d="M385.00 75.15 A11.5 11.5 0 0 0 393.45 68.00" stroke="#ffffff" stroke-width="1.1" fill="none" opacity="0.55"/><ellipse cx="379.9" cy="62.099999999999994" rx="2.2" ry="0.8" fill="#ffffff" opacity="0.6"/><linearGradient id="ph80" x1="0" y1="0" x2="1" y2="0.3"><stop offset="0" stop-color="#bebebe"/><stop offset="1" stop-color="#b8b8b8"/></linearGradient><rect x="334" y="80.5" width="129.70" height="28.50" fill="url(#ph80)"/><path d="M336 93.30000000000001 L452.8 90.2 L452.8 99.5 L428 99.2 L425 97.5 L336 94.5 Z" fill="#ffffff" fill-opacity="0.12" stroke="#8a8f97" stroke-width="0.65" stroke-opacity="0.85"/><path d="M339 93.9 L452 94.05" stroke="#9aa0a8" stroke-width="0.5" opacity="0.6"/><circle cx="383.9" cy="93.8" r="12.6" fill="url(#dropg)" stroke="#6e737a" stroke-width="0.9" stroke-opacity="0.75"/><path d="M386.42 104.51 A11.1 11.1 0 0 0 394.61 97.58" stroke="#ffffff" stroke-width="1.1" fill="none" opacity="0.55"/><ellipse cx="381.4" cy="91.8" rx="2.2" ry="0.8" fill="#ffffff" opacity="0.6"/><linearGradient id="ph113" x1="0" y1="0" x2="1" y2="0.3"><stop offset="0" stop-color="#b2b6b9"/><stop offset="1" stop-color="#b6babd"/></linearGradient><rect x="334" y="113.2" width="129.70" height="28.30" fill="url(#ph113)"/><path d="M336 123.2 L452.8 120.4 L452.8 128.8 L427 128.5 L424 126.80000000000001 L336 124.39999999999999 Z" fill="#ffffff" fill-opacity="0.12" stroke="#8a8f97" stroke-width="0.65" stroke-opacity="0.85"/><path d="M339 123.8 L452 123.80000000000001" stroke="#9aa0a8" stroke-width="0.5" opacity="0.6"/><circle cx="430" cy="127.2" r="13.5" fill="url(#dropg)" stroke="#6e737a" stroke-width="0.9" stroke-opacity="0.75"/><path d="M432.70 138.68 A12.0 12.0 0 0 0 441.48 131.25" stroke="#ffffff" stroke-width="1.1" fill="none" opacity="0.55"/><ellipse cx="427.5" cy="125.2" rx="2.2" ry="0.8" fill="#ffffff" opacity="0.6"/><linearGradient id="ph144" x1="0" y1="0" x2="1" y2="0.3"><stop offset="0" stop-color="#ccd2da"/><stop offset="1" stop-color="#acb0b6"/></linearGradient><rect x="334" y="144.5" width="129.70" height="28.50" fill="url(#ph144)"/><path d="M336 156.4 L452.8 152.4 L452.8 161.1 L428 160.79999999999998 L425 159.1 L336 157.6 Z" fill="#ffffff" fill-opacity="0.12" stroke="#8a8f97" stroke-width="0.65" stroke-opacity="0.85"/><path d="M339 157 L452 155.95" stroke="#9aa0a8" stroke-width="0.5" opacity="0.6"/><circle cx="448" cy="159" r="13.5" fill="url(#dropg)" stroke="#6e737a" stroke-width="0.9" stroke-opacity="0.75"/><path d="M450.70 170.47 A12.0 12.0 0 0 0 459.48 163.05" stroke="#ffffff" stroke-width="1.1" fill="none" opacity="0.55"/><ellipse cx="445.5" cy="157" rx="2.2" ry="0.8" fill="#ffffff" opacity="0.6"/><path d="M391 18V46 M391 49.5V77.5 M391 80.5V109 M391 113.2V141.5 M391 144.5V173" stroke="#3a3a3a" stroke-width="1.4" stroke-dasharray="1.1 0.9"/><path d="M395 80.5V109" stroke="#e25858" stroke-width="1.8" stroke-dasharray="5.5 3"/><path d="M413.3 113.2V141.5 M415 144.5V173" stroke="#e25858" stroke-width="1.8" stroke-dasharray="5.2 3.4"/><path d="M400.2 71.6H394 M397.4 68l-3.4 3.6 3.4 3.6" stroke="#111" stroke-width="1.5" fill="none"/><text x="403.00" y="75.30" font-size="10" text-anchor="start" fill="#111" stroke="#111" font-weight="bold" >Coincide</text><text x="338.00" y="169.50" font-size="10" text-anchor="start" fill="#111" stroke="#111" font-weight="bold" >Outer end</text><text x="295.10" y="28.90" font-size="10" text-anchor="middle" fill="#111" stroke="#111" font-weight="bold" >No internal</text><text x="293.10" y="42.40" font-size="10" text-anchor="middle" fill="#111" stroke="#111" font-weight="bold" >Wedge structure</text><text x="294.10" y="76.80" font-size="10.3" text-anchor="middle" fill="#111" stroke="#111" font-weight="bold" >Flush at the</text><text x="295.20" y="90.00" font-size="10.3" text-anchor="middle" fill="#111" stroke="#111" font-weight="bold" >end</text><text x="295.40" y="140.00" font-size="10.3" text-anchor="middle" fill="#111" stroke="#111" font-weight="bold" >Staggered</text><text x="295.50" y="152.00" font-size="10.3" text-anchor="middle" fill="#111" stroke="#111" font-weight="bold" >length</text></svg></body></html>
